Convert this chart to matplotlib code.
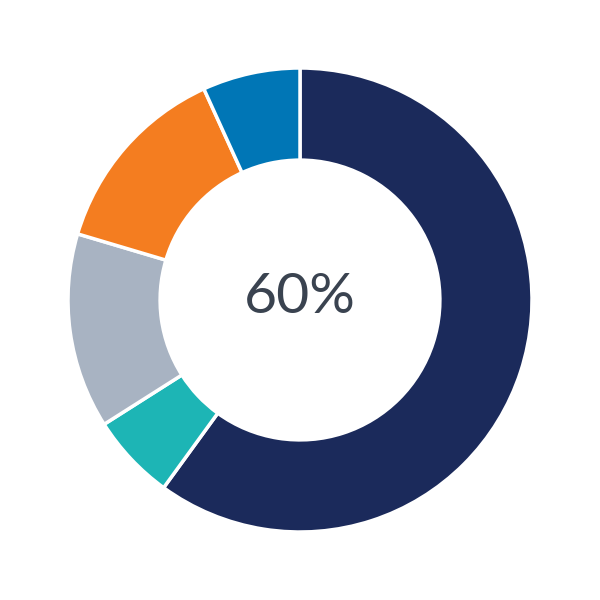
import matplotlib.pyplot as plt

# segment shares, clockwise from the top
labels = ['Navy', 'Teal', 'Gray', 'Orange', 'Blue']
shares = [60, 6, 13.6, 13.6, 6.8]
colors = ['#1b2a5b', '#1db5b5', '#a8b3c2', '#f47d20', '#0076b6']
center_label = '60%'

fig = plt.figure(figsize=(6, 6), dpi=100)
ax = fig.add_axes([0, 0, 1, 1])

ax.pie(shares, colors=colors, startangle=90, counterclock=False,
       radius=1.0,
       wedgeprops=dict(width=0.397, edgecolor='white', linewidth=2.5))

ax.text(0, 0.01, center_label, ha='center', va='center',
        fontsize=41, family='Lato', fontweight='normal', color='#3a4350')

lim = 300 / 232
ax.set_xlim(-lim, lim)
ax.set_ylim(-lim, lim)
ax.set_aspect('equal')
ax.axis('off')

fig.savefig('out.png', dpi=100, facecolor='white')
